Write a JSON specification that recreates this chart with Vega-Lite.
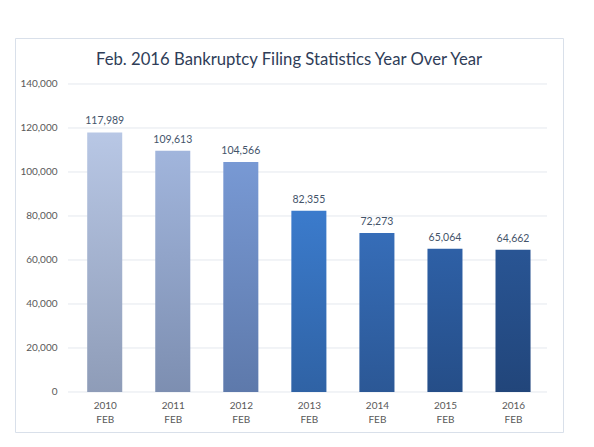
{
  "$schema": "https://vega.github.io/schema/vega-lite/v6.json",
  "description": "Feb. 2016 bankruptcy filings, year over year",
  "width": 548,
  "height": 394,
  "autosize": {"type": "none"},
  "padding": {"left": 15, "top": 38, "right": 31, "bottom": 15},
  "background": "white",
  "title": {
    "text": "Feb. 2016 Bankruptcy Filing Statistics Year Over Year",
    "anchor": "middle",
    "frame": "group",
    "offset": -31,
    "font": "Lato",
    "fontSize": 16.7,
    "fontWeight": "normal",
    "color": "#2f3d58"
  },
  "datasets": {
    "filings": [
      {"year": 2010, "filings": 117989},
      {"year": 2011, "filings": 109613},
      {"year": 2012, "filings": 104566},
      {"year": 2013, "filings": 82355},
      {"year": 2014, "filings": 72273},
      {"year": 2015, "filings": 65064},
      {"year": 2016, "filings": 64662}
    ],
    "grid": [
      {"level": 0},
      {"level": 20000},
      {"level": 40000},
      {"level": 60000},
      {"level": 80000},
      {"level": 100000},
      {"level": 120000},
      {"level": 140000}
    ]
  },
  "layer": [
    {
      "data": {"name": "grid"},
      "mark": {"type": "rule", "color": "#e4e8ee", "strokeWidth": 1},
      "encoding": {
        "y": {"field": "level", "type": "quantitative"},
        "x": {"datum": 2009.46},
        "x2": {"datum": 2016.5}
      }
    },
    {
      "data": {"name": "filings"},
      "mark": {"type": "bar", "width": 35},
      "encoding": {
        "x": {
          "field": "year",
          "type": "quantitative",
          "scale": {"domain": [2008.755, 2016.661], "nice": false, "zero": false},
          "axis": {
            "orient": "bottom",
            "offset": -36,
            "values": [2010, 2011, 2012, 2013, 2014, 2015, 2016],
            "labelExpr": "[format(datum.value, 'd'), 'FEB']",
            "labelBaseline": "top",
            "labelPadding": 4,
            "labelLineHeight": 14,
            "labelFont": "Lato",
            "labelFontSize": 10,
            "labelColor": "#595959",
            "domain": false,
            "ticks": false,
            "grid": false,
            "title": null
          }
        },
        "y": {
          "field": "filings",
          "type": "quantitative",
          "scale": {"domain": [-18182, 160909], "nice": false, "zero": false},
          "axis": {
            "orient": "left",
            "offset": -44,
            "values": [0, 20000, 40000, 60000, 80000, 100000, 120000, 140000],
            "format": ",.0f",
            "labelPadding": 2,
            "labelFont": "Lato",
            "labelFontSize": 10,
            "labelColor": "#595959",
            "domain": false,
            "ticks": false,
            "grid": false,
            "title": null
          }
        },
        "color": {
          "field": "year",
          "type": "ordinal",
          "scale": {
            "range": ["#b8c7e5", "#a1b5dc", "#7899d4", "#3b7bcc", "#366db8", "#2e60a6", "#295594"]
          },
          "legend": null
        }
      }
    },
    {
      "data": {"name": "filings"},
      "mark": {
        "type": "bar",
        "width": 35,
        "color": {
          "gradient": "linear",
          "x1": 0, "y1": 0, "x2": 0, "y2": 1,
          "stops": [
            {"offset": 0, "color": "rgba(10,20,40,0)"},
            {"offset": 1, "color": "rgba(10,20,40,0.24)"}
          ]
        }
      },
      "encoding": {
        "x": {"field": "year", "type": "quantitative"},
        "y": {"field": "filings", "type": "quantitative"}
      }
    },
    {
      "data": {"name": "filings"},
      "mark": {
        "type": "text",
        "baseline": "middle",
        "dy": -11,
        "font": "Lato",
        "fontSize": 10.5,
        "color": "#44546a"
      },
      "encoding": {
        "x": {"field": "year", "type": "quantitative"},
        "y": {"field": "filings", "type": "quantitative"},
        "text": {"field": "filings", "type": "quantitative", "format": ",.0f"}
      }
    }
  ],
  "config": {
    "view": {"stroke": "#d9e0ea", "strokeWidth": 1}
  }
}
